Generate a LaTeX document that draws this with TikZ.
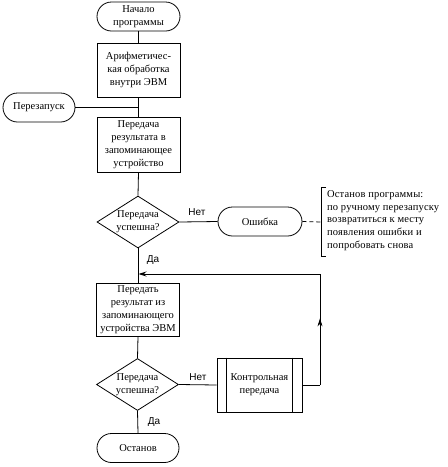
\documentclass[tikz,border=0pt]{standalone}
\usepackage{fontspec}
\setmainfont{Liberation Serif}
\newfontfamily\labelfont{Liberation Sans}
\newfontfamily\notefont[LetterSpace=1.5]{Liberation Serif}
\usetikzlibrary{shapes.geometric,arrows.meta,decorations.markings}
\begin{document}
\begin{tikzpicture}[x=1pt,y=-1pt,
  every node/.style={font=\fontsize{10.5}{13}\selectfont},
  line/.style={line width=0.8pt},
  term/.style={draw,line width=0.8pt,rounded corners=14.5pt,minimum height=29pt,inner sep=0pt,align=center},
  procbox/.style={draw,line width=0.8pt,minimum width=83pt,inner sep=0pt,align=center},
  decis/.style={draw,line width=0.8pt,diamond,aspect=1.58,minimum width=82pt,minimum height=52pt,inner sep=0pt},
  lbl/.style={font=\labelfont\fontsize{10}{12}\selectfont,inner sep=0pt},
  tip/.style={-{Stealth[length=8pt,width=5pt]}},
  midup/.style={decoration={markings,mark=at position 0.6 with {\arrow{Stealth[length=8pt,width=5pt]}}},postaction={decorate}}
]
\useasboundingbox (0,0) rectangle (448,467);

\node[term,minimum width=83pt] (start) at (138.5,16.5) {Начало\\программы};
\node[procbox,minimum height=54pt] (b1) at (138.5,70) {Арифметичес-\\кая обработка\\внутри ЭВМ};
\node[term,minimum width=72pt] (restart) at (39,107.5) {Перезапуск};
\node[procbox,minimum height=55pt] (b2) at (138.5,144.5) {Передача\\результата в\\запоминающее\\устройство};
\node[decis] (d1) at (138,222) {};
\node[align=center,inner sep=0pt] (d1t) at (d1) {Передача\\успешна?};
\node[term,minimum width=84pt] (err) at (260,221.5) {Ошибка};
\node[procbox,minimum height=53pt] (b3) at (138,309.5) {Передать\\результат из\\запоминающего\\устройства ЭВМ};
\node[decis] (d2) at (137.5,384.5) {};
\node[align=center,inner sep=0pt] (d2t) at (d2) {Передача\\успешна?};
\node[procbox,minimum width=85pt,minimum height=54pt] (kp) at (259.5,385) {Контрольная\\передача};
\draw[line] ([xshift=10pt]kp.north west) -- ([xshift=10pt]kp.south west);
\draw[line] ([xshift=-10pt]kp.north east) -- ([xshift=-10pt]kp.south east);
\node[term,minimum width=82pt] (stop) at (138,448) {Останов};

% annotation
\coordinate (brt) at (321,187);
\coordinate (brm) at (321,222);
\coordinate (brb) at (321,256);
\draw[line] ([xshift=5pt]brt) -- (brt) -- (brb) -- ([xshift=5pt]brb);
\node[anchor=west,align=left,inner sep=0pt,font=\notefont\fontsize{10.5}{12.8}\selectfont] (note) at (327,220.5) {Останов программы:\\по ручному перезапуску\\возвратиться к месту\\появления ошибки и\\попробовать снова};
\draw[line,dash pattern=on 4pt off 3pt] (err.east) -- (brm);

% connectors
\draw[line] (start.south) -- (b1.north);
\draw[line] (b1.south) -- (b2.north);
\coordinate (j1) at (b1.south |- restart.east);
\draw[line] (restart.east) -- (j1);
\draw[line] (b2.south) -- (d1.north);
\draw[line] (d1.east) -- (err.west);
\draw[line] (d1.south) -- (b3.north);
\draw[line] (b3.south) -- (d2.north);
\draw[line] (d2.east) -- (kp.west);
\draw[line] (d2.south) -- (stop.north);

\coordinate (c1) at (320,385);
\coordinate (c2) at (320,274);
\coordinate (c3) at (138.5,274);
\draw[line] (kp.east) -- (c1);
\draw[line,midup] (c1) -- (c2);
\draw[line,tip] (c2) -- (c3);

\node[lbl] (no1) at (197,212) {Нет};
\node[lbl] (yes1) at (153,260) {Да};
\node[lbl] (no2) at (198,377) {Нет};
\node[lbl] (yes2) at (154,422) {Да};
\end{tikzpicture}
\end{document}
